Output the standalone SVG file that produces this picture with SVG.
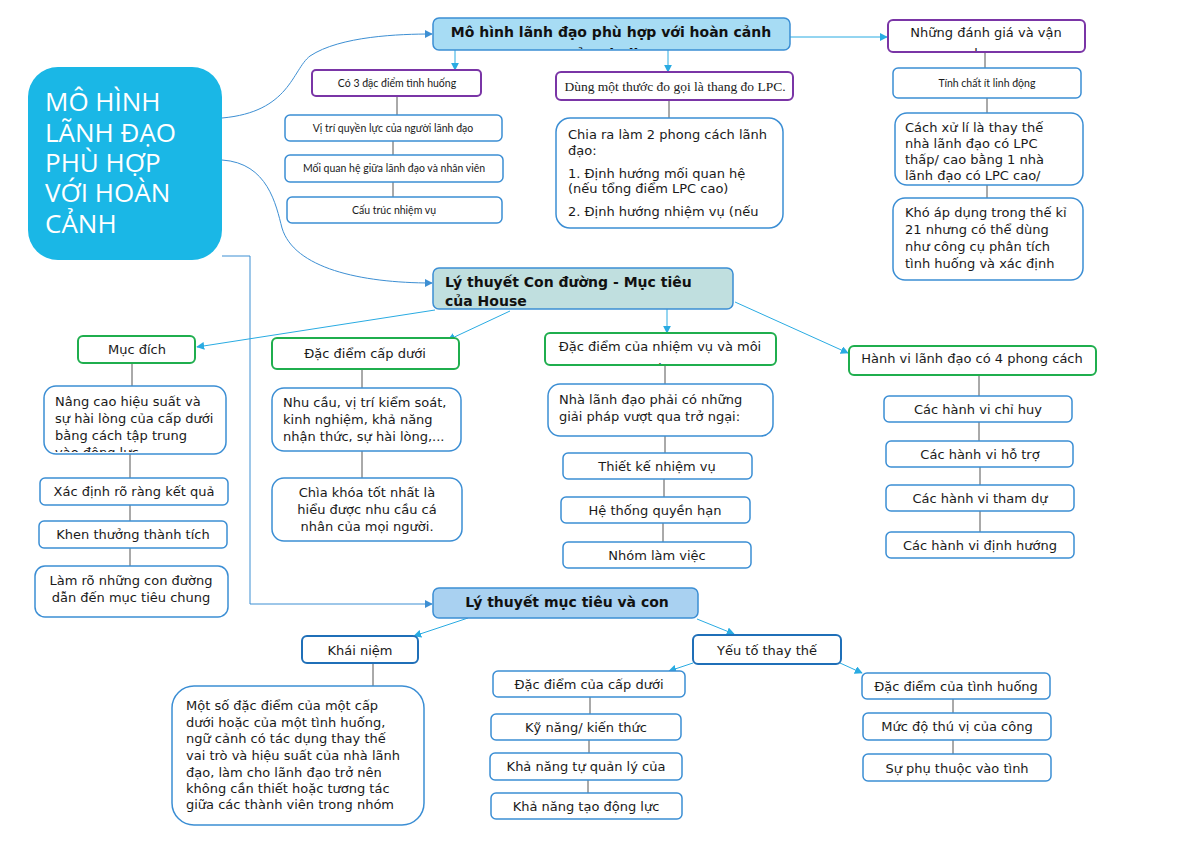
<svg xmlns="http://www.w3.org/2000/svg" width="1200" height="849" viewBox="0 0 1200 849">
<defs>
<marker id="a" viewBox="0 0 10 10" refX="9" refY="5" markerWidth="8" markerHeight="8" markerUnits="userSpaceOnUse" orient="auto"><path d="M0,0 L10,5 L0,10 z" fill="#29abe2"/></marker>
<marker id="a2" viewBox="0 0 10 10" refX="9" refY="5" markerWidth="8" markerHeight="8" markerUnits="userSpaceOnUse" orient="auto"><path d="M0,0 L10,5 L0,10 z" fill="#3d8fd3"/></marker>
<clipPath id="c1"><rect x="433" y="18" width="357" height="31"/></clipPath>
<clipPath id="c2"><rect x="888" y="20" width="197" height="31"/></clipPath>
<clipPath id="c3"><rect x="433" y="268" width="300" height="40"/></clipPath>
<clipPath id="c4"><rect x="44" y="386" width="182" height="66"/></clipPath>
<clipPath id="c5"><rect x="545" y="333" width="231" height="31"/></clipPath>
<clipPath id="c6"><rect x="172" y="686" width="252" height="132"/></clipPath>
</defs>
<style>
.box{fill:#fff;stroke:#3b8ed4;stroke-width:1.5}
.grn{fill:#fff;stroke:#1fae4e;stroke-width:2}
.pur{fill:#fff;stroke:#7a35a6;stroke-width:2}
.dk{fill:#fff;stroke:#1f6fb8;stroke-width:2}
.t{font-family:"DejaVu Sans",Verdana,sans-serif;font-size:13px;fill:#1a1a1a}
.c{text-anchor:middle}
.s{font-family:Lato,"Liberation Sans",sans-serif;font-size:10.5px;fill:#1a1a1a}
.b{font-weight:bold;font-size:14px;fill:#111}
.ln{stroke:#555;stroke-width:1;fill:none}
.ar{stroke:#29abe2;stroke-width:1;fill:none;marker-end:url(#a)}
.ar2{stroke:#3d8fd3;stroke-width:1;fill:none;marker-end:url(#a2)}
</style>
<rect width="1200" height="849" fill="#fff"/>

<g id="connectors">
<path class="ar2" d="M222,118 C290,112 292,70 310,56 C340,36 400,34 432,34"/>
<path class="ar2" d="M222,160 C268,163 276,205 282,228 C294,268 360,283 432,283"/>
<path class="ar2" d="M222,256 L250,256 L250,604 L432,604"/>
<path class="ar" d="M455,50 L455,70"/>
<path class="ar" d="M668,50 L668,72"/>
<path class="ar" d="M790,37 L887,37"/>
<path class="ln" d="M397,96 V115 M393,141 V155 M393,182 V197"/>
<path class="ln" d="M669,100 V118"/>
<path class="ln" d="M985,52 V68 M987,98 V113 M987,185 V198"/>
<path class="ar" d="M435,310 L197,347"/>
<path class="ar" d="M510,311 L448,340"/>
<path class="ar" d="M667,309 L667,333"/>
<path class="ar" d="M735,302 L848,353"/>
<path class="ln" d="M132,363 V386 M130,454 V478 M130,505 V521 M130,548 V566"/>
<path class="ln" d="M362,369 V388 M362,451 V478"/>
<path class="ln" d="M665,365 V384 M665,436 V453 M664,479 V497 M663,523 V542"/>
<path class="ln" d="M979,375 V396 M979,422 V441 M980,467 V485 M980,511 V532"/>
<path class="ar" d="M468,618 L414,636"/>
<path class="ar" d="M697,619 L734,634"/>
<path class="ln" d="M373,663 V686"/>
<path class="ar" d="M693,663 L669,671"/>
<path class="ar" d="M840,663 L862,673"/>
<path class="ln" d="M590,697 V714 M589,740 V753 M588,780 V793"/>
<path class="ln" d="M953,699 V713 M953,740 V754"/>
</g>

<g id="main">
<rect x="28" y="67" width="194" height="193" rx="30" fill="#1ab7e6"/>
<text font-family="'Open Sans','Noto Sans',sans-serif" font-size="26" fill="#fff"><tspan x="45" y="111">MÔ HÌNH</tspan><tspan x="45" y="142">LÃNH ĐẠO</tspan><tspan x="45" y="172">PHÙ HỢP</tspan><tspan x="45" y="202">VỚI HOÀN</tspan><tspan x="45" y="233">CẢNH</tspan></text>
</g>

<g id="fiedler">
<rect x="433" y="18" width="357" height="32" rx="6" fill="#a7dcf4" stroke="#3b8ed4" stroke-width="1.5"/>
<g clip-path="url(#c1)"><text class="t b c" x="611" y="37">Mô hình lãnh đạo phù hợp với hoàn cảnh</text><text class="t b c" x="611" y="59">của Fiedler</text></g>
</g>
<g id="n-co3"><rect class="pur" x="312" y="70" width="169" height="26" rx="4"/><text class="s c" x="397" y="87">Có 3 đặc điểm tình huống</text></g>
<g id="n-vitri"><rect class="box" x="285" y="115" width="217" height="26" rx="5"/><text class="s c" x="393" y="132">Vị trí quyền lực của người lãnh đạo</text></g>
<g id="n-moiqh"><rect class="box" x="285" y="155" width="218" height="27" rx="5"/><text class="s c" x="394" y="172">Mối quan hệ giữa lãnh đạo và nhân viên</text></g>
<g id="n-cautruc"><rect class="box" x="287" y="197" width="215" height="26" rx="5"/><text class="s c" x="394" y="214">Cấu trúc nhiệm vụ</text></g>
<g id="n-lpc"><rect class="pur" x="556" y="72" width="237" height="28" rx="5"/><text x="675" y="91" text-anchor="middle" font-family="'Liberation Serif',serif" font-size="13.5" fill="#1a1a1a">Dùng một thước đo gọi là thang đo LPC.</text></g>
<g id="n-chia"><rect class="box" x="556" y="118" width="227" height="110" rx="14"/><text class="t"><tspan x="568" y="139">Chia ra làm 2 phong cách lãnh</tspan><tspan x="568" y="155">đạo:</tspan><tspan x="568" y="178">1. Định hướng mối quan hệ</tspan><tspan x="568" y="193">(nếu tổng điểm LPC cao)</tspan><tspan x="568" y="216">2. Định hướng nhiệm vụ (nếu</tspan></text></g>
<g id="n-danhgia"><rect class="pur" x="888" y="20" width="197" height="32" rx="5"/><g clip-path="url(#c2)"><text class="t c" x="986" y="37">Những đánh giá và vận</text><text class="t c" x="986" y="58">dụng</text></g></g>
<g id="n-tinhchat"><rect class="box" x="893" y="68" width="188" height="30" rx="5"/><text class="s c" x="987" y="87">Tính chất ít linh động</text></g>
<g id="n-cachxu"><rect class="box" x="895" y="113" width="188" height="72" rx="12"/><text class="t"><tspan x="905" y="132">Cách xử lí là thay thế</tspan><tspan x="905" y="148">nhà lãnh đạo có LPC</tspan><tspan x="905" y="164">thấp/ cao bằng 1 nhà</tspan><tspan x="905" y="180">lãnh đạo có LPC cao/</tspan></text></g>
<g id="n-khoap"><rect class="box" x="893" y="198" width="190" height="82" rx="12"/><text class="t"><tspan x="905" y="217">Khó áp dụng trong thế kỉ</tspan><tspan x="905" y="234">21 nhưng có thể dùng</tspan><tspan x="905" y="251">như công cụ phân tích</tspan><tspan x="905" y="268">tình huống và xác định</tspan></text></g>

<g id="house">
<rect x="433" y="268" width="300" height="41" rx="6" fill="#c0dfdf" stroke="#3b8ed4" stroke-width="1.5"/>
<g clip-path="url(#c3)"><text class="t b" x="445" y="287"> Lý thuyết Con đường - Mục tiêu</text><text class="t b" x="445" y="306">của House</text></g>
</g>
<g id="n-mucdich"><rect class="grn" x="78" y="336" width="117" height="27" rx="5"/><text class="t c" x="137" y="354">Mục đích</text></g>
<g id="n-nangcao"><rect class="box" x="44" y="386" width="182" height="68" rx="12"/><g clip-path="url(#c4)"><text class="t"><tspan x="55" y="406">Nâng cao hiệu suất và</tspan><tspan x="55" y="423">sự hài lòng của cấp dưới</tspan><tspan x="55" y="440">bằng cách tập trung</tspan><tspan x="55" y="457">vào động lực</tspan></text></g></g>
<g id="n-xacdinh"><rect class="box" x="40" y="478" width="188" height="27" rx="5"/><text class="t c" x="134" y="496">Xác định rõ ràng kết quả</text></g>
<g id="n-khen"><rect class="box" x="39" y="521" width="188" height="27" rx="5"/><text class="t c" x="133" y="539">Khen thưởng thành tích</text></g>
<g id="n-lamro"><rect class="box" x="35" y="566" width="193" height="51" rx="10"/><text class="t c"><tspan x="131" y="585">Làm rõ những con đường</tspan><tspan x="131" y="602">dẫn đến mục tiêu chung</tspan></text></g>
<g id="n-dacdiemcd"><rect class="grn" x="272" y="338" width="187" height="31" rx="5"/><text class="t c" x="365" y="358">Đặc điểm cấp dưới</text></g>
<g id="n-nhucau"><rect class="box" x="272" y="388" width="189" height="63" rx="12"/><text class="t"><tspan x="283" y="407">Nhu cầu, vị trí kiểm soát,</tspan><tspan x="283" y="424">kinh nghiệm, khả năng</tspan><tspan x="283" y="441">nhận thức, sự hài lòng,...</tspan></text></g>
<g id="n-chiakhoa"><rect class="box" x="272" y="478" width="190" height="63" rx="12"/><text class="t c"><tspan x="367" y="497">Chìa khóa tốt nhất là</tspan><tspan x="367" y="514">hiểu được nhu cầu cá</tspan><tspan x="367" y="531">nhân của mọi người.</tspan></text></g>
<g id="n-nhiemvu"><rect class="grn" x="545" y="333" width="231" height="32" rx="5"/><g clip-path="url(#c5)"><text class="t c" x="660" y="351">Đặc điểm của nhiệm vụ và môi</text><text class="t c" x="660" y="373">trường</text></g></g>
<g id="n-nhald"><rect class="box" x="548" y="384" width="225" height="52" rx="12"/><text class="t"><tspan x="559" y="404">Nhà lãnh đạo phải có những</tspan><tspan x="559" y="421">giải pháp vượt qua trở ngại:</tspan></text></g>
<g id="n-thietke"><rect class="box" x="563" y="453" width="189" height="26" rx="5"/><text class="t c" x="657" y="471">Thiết kế nhiệm vụ</text></g>
<g id="n-hethong"><rect class="box" x="561" y="497" width="189" height="26" rx="5"/><text class="t c" x="655" y="515">Hệ thống quyền hạn</text></g>
<g id="n-nhom"><rect class="box" x="563" y="542" width="188" height="26" rx="5"/><text class="t c" x="657" y="560">Nhóm làm việc</text></g>
<g id="n-hanhvi"><rect class="grn" x="849" y="346" width="247" height="29" rx="5"/><text class="t c" x="972" y="363">Hành vi lãnh đạo có 4 phong cách</text></g>
<g id="n-chihuy"><rect class="box" x="884" y="396" width="188" height="26" rx="5"/><text class="t c" x="978" y="414">Các hành vi chỉ huy</text></g>
<g id="n-hotro"><rect class="box" x="886" y="441" width="187" height="26" rx="5"/><text class="t c" x="980" y="459">Các hành vi hỗ trợ</text></g>
<g id="n-thamdu"><rect class="box" x="886" y="485" width="188" height="26" rx="5"/><text class="t c" x="980" y="503">Các hành vi tham dự</text></g>
<g id="n-dinhhuong"><rect class="box" x="886" y="532" width="188" height="26" rx="5"/><text class="t c" x="980" y="550">Các hành vi định hướng</text></g>

<g id="muctieu"><rect x="433" y="588" width="265" height="30" rx="6" fill="#a9d1f1" stroke="#3b8ed4" stroke-width="1.5"/><text class="t b c" x="567" y="607">Lý thuyết mục tiêu và con</text></g>
<g id="n-khainiem"><rect class="dk" x="302" y="636" width="116" height="27" rx="5"/><text class="t c" x="360" y="655">Khái niệm</text></g>
<g id="n-motso"><rect class="box" x="172" y="686" width="252" height="139" rx="22"/><g clip-path="url(#c6)"><text class="t"><tspan x="186" y="710">Một số đặc điểm của một cấp</tspan><tspan x="186" y="727">dưới hoặc của một tình huống,</tspan><tspan x="186" y="743">ngữ cảnh có tác dụng thay thế</tspan><tspan x="186" y="760">vai trò và hiệu suất của nhà lãnh</tspan><tspan x="186" y="777">đạo, làm cho lãnh đạo trở nên</tspan><tspan x="186" y="793">không cần thiết hoặc tương tác</tspan><tspan x="186" y="809">giữa các thành viên trong nhóm</tspan></text></g></g>
<g id="n-yeuto"><rect class="dk" x="693" y="635" width="148" height="29" rx="5"/><text class="t c" x="767" y="655">Yếu tố thay thế</text></g>
<g id="n-dcapduoi"><rect class="box" x="493" y="671" width="192" height="26" rx="5"/><text class="t c" x="589" y="689">Đặc điểm của cấp dưới</text></g>
<g id="n-kynang"><rect class="box" x="491" y="714" width="190" height="26" rx="5"/><text class="t c" x="586" y="732">Kỹ năng/ kiến thức</text></g>
<g id="n-tuquanly"><rect class="box" x="490" y="753" width="192" height="27" rx="5"/><text class="t c" x="586" y="771">Khả năng tự quản lý của</text></g>
<g id="n-taodl"><rect class="box" x="491" y="793" width="191" height="26" rx="5"/><text class="t c" x="586" y="811">Khả năng tạo động lực</text></g>
<g id="n-dtinhhuong"><rect class="box" x="862" y="673" width="188" height="26" rx="5"/><text class="t c" x="956" y="691">Đặc điểm của tình huống</text></g>
<g id="n-mucdo"><rect class="box" x="863" y="713" width="188" height="27" rx="5"/><text class="t c" x="957" y="731">Mức độ thú vị của công</text></g>
<g id="n-phuthuoc"><rect class="box" x="863" y="754" width="188" height="27" rx="5"/><text class="t c" x="957" y="773">Sự phụ thuộc vào tình</text></g>
</svg>
